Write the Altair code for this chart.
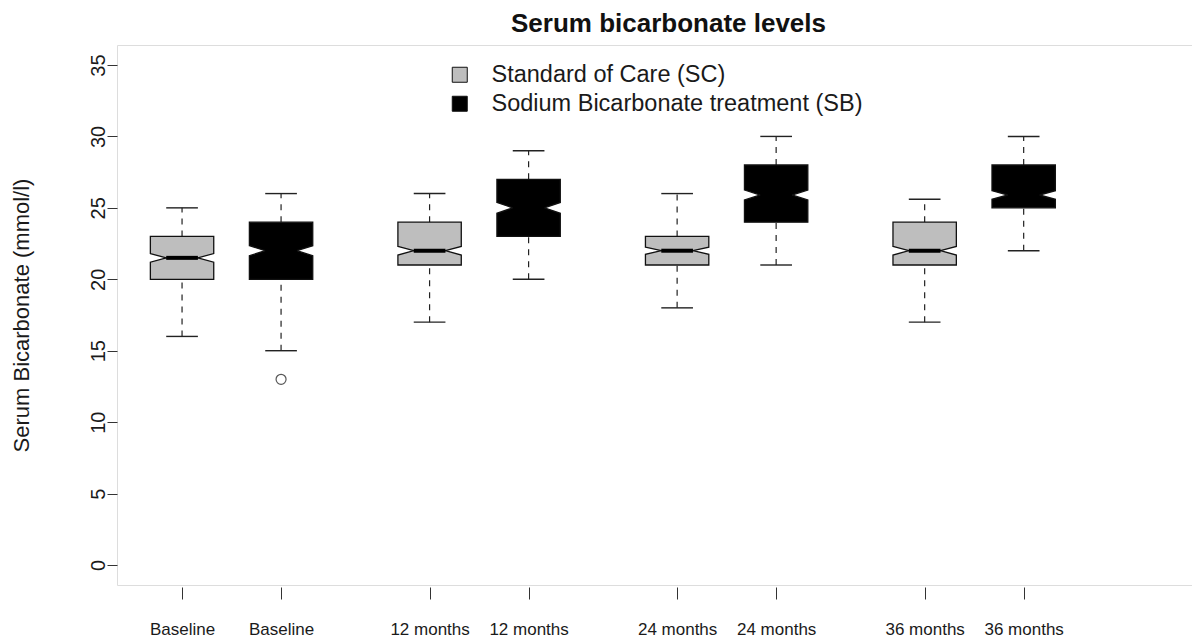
import altair as alt
import pandas as pd

# ---- data ----
timepoints = ["Baseline", "Baseline", "12 months", "12 months",
              "24 months", "24 months", "36 months", "36 months"]
groups = ["Standard of Care (SC)", "Sodium Bicarbonate treatment (SB)"] * 4
whisk_lo = [16, 15, 17, 20, 18, 21, 17, 22]
q1 = [20, 20, 21, 23, 21, 24, 21, 25]
medians = [21.5, 22, 22, 25, 22, 25.9, 22, 25.9]
q3 = [23, 24, 24, 27, 23, 28, 24, 28]
whisk_hi = [25, 26, 26, 29, 26, 30, 25.6, 30]
notch_half = [0.3, 0.35, 0.3, 0.38, 0.25, 0.35, 0.3, 0.3]
outlier_box = [1]
outlier_val = [13]
group_names = ["Standard of Care (SC)", "Sodium Bicarbonate treatment (SB)"]
group_colors = ["#BEBEBE", "#000000"]

# ---- layout helpers ----
positions = [1 + (i // 2) * 2.5 + (i % 2) for i in range(len(timepoints))]
half_w = 0.32
notch_frac = 0.5
cap_frac = 0.5

half_rows, med_rows, whisk_rows, cap_rows = [], [], [], []
for i, p in enumerate(positions):
    L, R = p - half_w, p + half_w
    iL, iR = p - half_w * notch_frac, p + half_w * notch_frac
    nlo, nhi, m = medians[i] - notch_half[i], medians[i] + notch_half[i], medians[i]
    # lower half of the notched box
    for x, a, b in [(L, q1[i], nlo), (iL, q1[i], m), (iR, q1[i], m), (R, q1[i], nlo)]:
        half_rows.append(dict(part=f"{i}-lo", x=x, ylo=a, yhi=b, group=groups[i]))
    # upper half of the notched box
    for x, a, b in [(L, nhi, q3[i]), (iL, m, q3[i]), (iR, m, q3[i]), (R, nhi, q3[i])]:
        half_rows.append(dict(part=f"{i}-hi", x=x, ylo=a, yhi=b, group=groups[i]))
    med_rows.append(dict(box=i, y=m, xl=iL, xr=iR))
    whisk_rows.append(dict(box=i, x=p, y=q3[i], y2=whisk_hi[i]))
    whisk_rows.append(dict(box=i, x=p, y=whisk_lo[i], y2=q1[i]))
    cw = half_w * cap_frac
    cap_rows.append(dict(box=i, y=whisk_hi[i], xl=p - cw, xr=p + cw))
    cap_rows.append(dict(box=i, y=whisk_lo[i], xl=p - cw, xr=p + cw))

half_df = pd.DataFrame(half_rows)
med_df = pd.DataFrame(med_rows)
whisk_df = pd.DataFrame(whisk_rows)
cap_df = pd.DataFrame(cap_rows)
out_df = pd.DataFrame({"x": [positions[b] for b in outlier_box], "y": outlier_val})

FONT = "Liberation Sans"
xdom = [0.343, 11.2]
ydom = [-1.4, 36.4]

label_expr = " : ".join(
    f"datum.value == {p} ? '{t}'" for p, t in zip(positions, timepoints)
) + " : ''"

xscale = alt.Scale(domain=xdom, nice=False, zero=False)
yscale = alt.Scale(domain=ydom, nice=False, zero=False)

xaxis = alt.Axis(values=positions, labelExpr=label_expr, title=None, grid=False,
                 domain=False, ticks=True, tickSize=12, tickColor="#333",
                 offset=2, labelPadding=22, labelFontSize=17, labelFont=FONT,
                 labelColor="#1a1a1a", labelFlush=False)
yaxis = alt.Axis(values=list(range(0, 36, 5)), title="Serum Bicarbonate (mmol/l)",
                 grid=False, domain=False, tickSize=10, tickColor="#333",
                 labelAngle=270, labelFontSize=20, labelFont=FONT, labelColor="#1a1a1a",
                 labelPadding=-1, titleFont=FONT, titleFontSize=22, titleFontWeight="normal",
                 titleColor="#1a1a1a", titleAngle=270, titleX=-96, titleY=270,
                 titleAlign="center", titleBaseline="middle")

whiskers = alt.Chart(whisk_df).mark_rule(color="#222", strokeWidth=1.2, strokeDash=[6, 6]).encode(
    x=alt.X("x:Q", scale=xscale, axis=xaxis),
    y=alt.Y("y:Q", scale=yscale, axis=yaxis),
    y2="y2:Q",
)

caps = alt.Chart(cap_df).mark_rule(color="#222", strokeWidth=1.4).encode(
    x="xl:Q", x2="xr:Q", y="y:Q"
)

boxes = alt.Chart(half_df).mark_area(stroke="#111", strokeWidth=1.3, opacity=1,
                                     interpolate="linear").encode(
    x="x:Q",
    y=alt.Y("ylo:Q", stack=None),
    y2="yhi:Q",
    detail="part:N",
    fill=alt.Fill("group:N",
                  scale=alt.Scale(domain=group_names, range=group_colors),
                  legend=alt.Legend(orient="none", legendX=331, legendY=18, title=None,
                                    symbolType="square", symbolSize=225,
                                    symbolStrokeColor="#111", symbolStrokeWidth=1,
                                    symbolOpacity=1,
                                    labelFont=FONT, labelFontSize=23.5, labelColor="#1a1a1a",
                                    labelOffset=20, rowPadding=4, padding=0,
                                    labelLimit=700)),
)

meds = alt.Chart(med_df).mark_rule(color="#000", strokeWidth=4).encode(
    x="xl:Q", x2="xr:Q", y="y:Q"
)

outliers = alt.Chart(out_df).mark_point(shape="circle", filled=False, color="#111",
                                        size=100, strokeWidth=1.2).encode(
    x="x:Q", y="y:Q"
)

chart = alt.layer(whiskers, caps, boxes, meds, outliers).properties(
    width=1075, height=540,
    title=alt.TitleParams("Serum bicarbonate levels", font=FONT, fontSize=26,
                          fontWeight="bold", color="#111", anchor="middle", offset=8, dx=14),
    autosize=alt.AutoSizeParams(type="none"),
    padding={"left": 109, "top": 37, "right": 0, "bottom": 55},
).configure_view(stroke="#222", strokeWidth=1.3).configure(background="white")

chart.save("out.html", embed_options={"renderer": "svg", "actions": False})
